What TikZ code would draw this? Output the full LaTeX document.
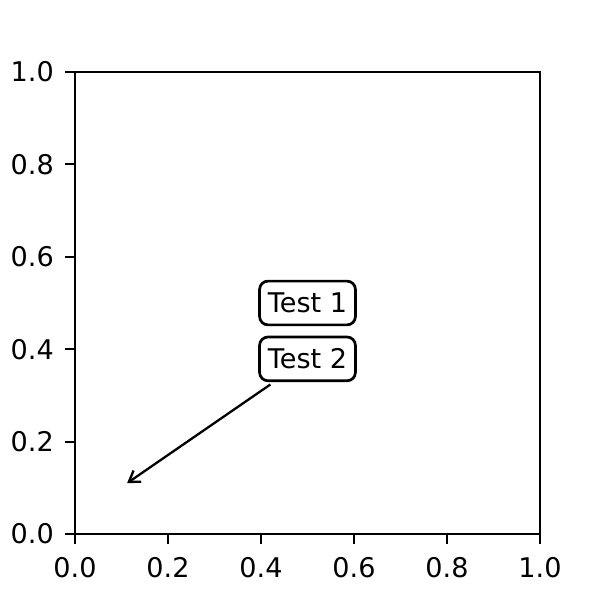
\documentclass[tikz,border=0pt]{standalone}
\usepackage{fontspec}
\setmainfont{DejaVu Sans}
\usetikzlibrary{arrows.meta}
\tikzset{
  spine/.style={line width=1pt},
  tickmark/.style={line width=1pt},
  ticklabel/.style={font=\fontsize{13}{15}\selectfont, inner sep=0pt},
  notebox/.style={
    draw, line width=1.3pt, rounded corners=4pt, fill=white,
    minimum width=46pt, minimum height=21pt, inner sep=0pt,
    font=\fontsize{13}{15}\selectfont
  },
  pointer/.style={-{Straight Barb[length=5pt,width=6.5pt]}, line width=1.1pt, shorten <=2pt}
}

\begin{document}
\begin{tikzpicture}[x=0.48pt, y=0.48pt]
  \useasboundingbox (0,0) rectangle (600,600);
  % axes area: 0..1 in data units
  \begin{scope}[shift={(75,66)}, x=223.2pt, y=221.76pt]
    % frame
    \draw[spine] (0,0) rectangle (1,1);
    % x ticks
    \foreach \v [count=\i] in {0.0,0.2,0.4,0.6,0.8,1.0} {
      \draw[tickmark] (\v,0) -- ++(0,-4.6pt);
      \node[ticklabel, anchor=north] (xt\i) at ([yshift=-11pt]\v,0) {\v};
    }
    % y ticks
    \foreach \v [count=\i] in {0.0,0.2,0.4,0.6,0.8,1.0} {
      \draw[tickmark] (0,\v) -- ++(-4.6pt,0);
      \node[ticklabel, anchor=east] (yt\i) at ([xshift=-10pt]0,\v) {\v};
    }
    % annotations
    \node[notebox] (test1) at (0.5,0.5) {Test 1};
    \node[notebox] (test2) at (0.5,0.379) {Test 2};
    \coordinate (tip) at (0.112,0.110);
    \draw[pointer] (test2) -- (tip);
  \end{scope}
\end{tikzpicture}
\end{document}
